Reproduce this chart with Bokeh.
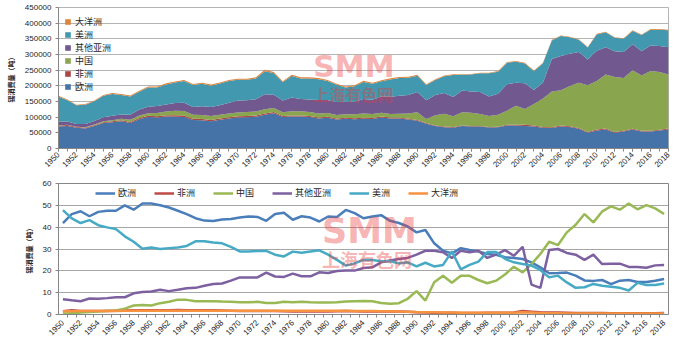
import math
from bokeh.plotting import figure
from bokeh.layouts import column
from bokeh.models import (ColumnDataSource, Range1d, FixedTicker, SingleIntervalTicker,
                          BasicTickFormatter, Legend, LegendItem, Label)
from bokeh.embed import file_html
from bokeh.resources import INLINE

years = list(range(1950, 2019))

# ---- consumption (tonnes), stacked area (top panel) ----
europe_t = [70400, 71800, 66200, 63900, 71900, 81200, 84100, 87000, 81100, 93500,
            100600, 99000, 101900, 101700, 100700, 90800, 90300, 87300, 91800, 95700,
            99000, 100100, 101500, 107700, 112200, 100200, 102000, 102200, 100800, 95900,
            98300, 92500, 94800, 93700, 95300, 94300, 99200, 96100, 95500, 92300,
            88400, 79300, 72000, 68000, 66400, 72000, 70200, 69900, 67000, 67700,
            73600, 73600, 71500, 70500, 66200, 65100, 70500, 68300, 63000, 50400,
            57800, 60900, 50400, 54600, 60900, 54600, 54600, 57800, 60900]
africa_t = [2500, 3100, 2200, 2300, 2400, 2700, 3000, 3100, 3400, 3700,
            4000, 3800, 4200, 4500, 4400, 4100, 4200, 3900, 3800, 3700,
            3600, 3600, 3600, 4000, 3900, 3200, 3300, 3200, 3200, 3200,
            3100, 3100, 3200, 3000, 3000, 2900, 3100, 3100, 3200, 3000,
            2400, 1800, 1800, 1900, 1900, 1700, 1700, 1700, 1900, 2000,
            2200, 2500, 4400, 3200, 2700, 3100, 3200, 2900, 2400, 2300,
            2600, 2600, 2100, 2100, 2300, 2200, 2300, 2300, 2700]
china_t = [500, 900, 1300, 1700, 2100, 2900, 3200, 4700, 6900, 8100,
           8100, 10300, 12100, 14600, 14700, 12600, 12800, 12400, 12400, 12700,
           12500, 12500, 13200, 13300, 12900, 12500, 13200, 13200, 12700, 12400,
           12000, 11600, 11700, 12300, 13400, 12800, 11600, 11000, 11900, 16500,
           25100, 13100, 32700, 41200, 34400, 41900, 42100, 38200, 34600, 38300,
           45000, 60500, 50100, 68200, 90900, 113700, 112300, 128400, 144600, 149100,
           155000, 173000, 175500, 168200, 186800, 176500, 190100, 183700, 172900]
other_asia_t = [11800, 10100, 8500, 10400, 11000, 12800, 14000, 13700, 16400, 19000,
                20800, 22400, 22300, 24200, 26300, 25100, 27700, 28600, 30000, 33900,
                37900, 37900, 38600, 48200, 42500, 37000, 43900, 39700, 39700, 43400,
                41600, 41200, 39800, 40600, 46000, 45400, 52100, 55300, 57900, 59300,
                64400, 59900, 64500, 66400, 61400, 69200, 67800, 70700, 62700, 66700,
                84200, 73400, 82000, 45100, 50200, 104100, 109000, 102400, 98000, 82200,
                96600, 86500, 82000, 83100, 83000, 76700, 82000, 83200, 86500]
americas_t = [80300, 67800, 59600, 61400, 63200, 68700, 69900, 62500, 58300, 56600,
              61100, 59100, 64000, 65400, 69200, 69900, 71400, 68300, 69400, 69300,
              66200, 65100, 66200, 73500, 68400, 58400, 68600, 64800, 66700, 66300,
              60300, 55100, 45100, 49200, 54800, 51200, 48700, 55100, 56300, 54900,
              52100, 48800, 47800, 53400, 70800, 50300, 54300, 59600, 73900, 70300,
              68800, 66800, 63300, 59800, 62100, 58900, 63800, 53200, 39300, 38400,
              52200, 48100, 43200, 42200, 42100, 52200, 50100, 52100, 54100]
oceania_t = [2500, 2300, 2200, 2300, 2400, 2700, 2800, 3000, 2900, 3100,
             3400, 3400, 3500, 3600, 3700, 3500, 3600, 3500, 3600, 3700,
             3800, 3800, 3900, 4300, 4100, 3700, 4000, 3900, 3900, 3800,
             3700, 3500, 3400, 3200, 3500, 3400, 3300, 3400, 3200, 3000,
             2600, 2100, 2200, 2100, 2100, 1900, 1900, 1900, 1900, 2000,
             2200, 2200, 2700, 2200, 1900, 2100, 2200, 1800, 1700, 1600,
             1800, 1900, 1800, 1800, 1900, 1800, 1900, 1900, 1900]

# ---- share (%), line chart (bottom panel) ----
europe_p = [41.9, 46.0, 47.3, 45.0, 47.0, 47.5, 47.5, 50.0, 48.0, 50.8,
            50.8, 50.0, 49.0, 47.5, 46.0, 44.1, 43.0, 42.8, 43.5, 43.7,
            44.4, 44.9, 44.7, 42.9, 46.0, 46.6, 43.4, 45.0, 44.4, 42.6,
            44.9, 44.7, 47.9, 46.4, 44.1, 44.9, 45.5, 42.9, 41.9, 40.3,
            37.6, 38.7, 32.6, 29.2, 28.0, 30.4, 29.5, 28.9, 27.7, 27.4,
            26.2, 25.9, 25.4, 23.9, 21.6, 18.9, 19.0, 19.2, 17.8, 15.6,
            15.4, 15.8, 13.9, 15.5, 15.8, 14.9, 14.9, 15.5, 16.3]
africa_p = [1.5, 2.0, 1.6, 1.6, 1.6, 1.6, 1.7, 1.8, 2.0, 2.0,
            2.0, 1.9, 2.0, 2.1, 2.0, 2.0, 2.0, 1.9, 1.8, 1.7,
            1.6, 1.6, 1.6, 1.6, 1.6, 1.5, 1.4, 1.4, 1.4, 1.4,
            1.4, 1.5, 1.6, 1.5, 1.4, 1.4, 1.4, 1.4, 1.4, 1.3,
            1.0, 0.9, 0.8, 0.8, 0.8, 0.7, 0.7, 0.7, 0.8, 0.8,
            0.8, 0.9, 1.6, 1.3, 1.0, 0.9, 0.9, 0.8, 0.7, 0.7,
            0.7, 0.7, 0.6, 0.6, 0.6, 0.6, 0.6, 0.6, 0.7]
china_p = [0.3, 0.6, 0.9, 1.2, 1.4, 1.7, 1.8, 2.7, 4.1, 4.4,
           4.1, 5.2, 5.8, 6.8, 6.7, 6.1, 6.1, 6.1, 5.9, 5.8,
           5.6, 5.6, 5.8, 5.3, 5.3, 5.8, 5.6, 5.8, 5.6, 5.5,
           5.5, 5.6, 5.9, 6.1, 6.2, 6.1, 5.3, 4.9, 5.2, 7.2,
           10.7, 6.4, 14.8, 17.7, 14.5, 17.7, 17.7, 15.8, 14.3, 15.5,
           18.3, 21.9, 19.3, 23.1, 27.7, 33.3, 31.8, 37.6, 41.1, 46.0,
           42.2, 47.2, 49.5, 48.0, 50.8, 48.2, 50.1, 48.6, 46.0]
other_asia_p = [7.0, 6.5, 6.1, 7.3, 7.2, 7.5, 7.9, 7.9, 9.7, 10.3,
                10.5, 11.3, 10.7, 11.3, 12.0, 12.2, 13.2, 14.0, 14.2, 15.5,
                17.0, 17.0, 17.0, 19.2, 17.4, 17.2, 18.7, 17.5, 17.5, 19.3,
                19.0, 19.9, 20.1, 20.1, 21.3, 21.6, 23.9, 24.7, 25.4, 25.9,
                27.4, 29.2, 29.2, 28.5, 25.9, 29.2, 28.5, 29.2, 25.9, 27.4,
                29.5, 26.9, 31.0, 13.7, 12.2, 29.5, 30.0, 28.2, 27.4, 25.0,
                27.4, 23.1, 23.3, 23.3, 21.8, 21.8, 21.4, 22.5, 22.7]
americas_p = [47.8, 44.0, 41.9, 43.2, 40.9, 39.9, 39.1, 35.8, 33.3, 30.1,
              30.7, 30.0, 30.4, 30.7, 31.4, 33.5, 33.6, 33.0, 32.6, 31.0,
              28.9, 28.8, 29.1, 29.1, 27.4, 26.6, 28.8, 28.3, 28.9, 29.4,
              27.4, 25.0, 22.4, 23.4, 25.0, 25.0, 24.4, 24.4, 23.4, 23.9,
              22.0, 23.7, 22.0, 22.7, 28.9, 20.7, 22.7, 24.2, 28.6, 28.6,
              25.5, 23.9, 23.1, 22.4, 20.4, 17.0, 17.8, 14.7, 12.2, 12.5,
              14.0, 13.2, 12.7, 12.2, 11.0, 14.5, 13.5, 13.5, 14.2]
oceania_p = [1.5, 1.5, 1.6, 1.6, 1.6, 1.6, 1.6, 1.7, 1.7, 1.7,
             1.7, 1.7, 1.7, 1.7, 1.7, 1.7, 1.7, 1.7, 1.7, 1.7,
             1.7, 1.7, 1.7, 1.7, 1.7, 1.7, 1.7, 1.7, 1.7, 1.7,
             1.7, 1.7, 1.7, 1.6, 1.6, 1.6, 1.5, 1.5, 1.4, 1.3,
             1.1, 1.0, 1.0, 0.9, 0.9, 0.8, 0.8, 0.8, 0.8, 0.8,
             0.8, 0.8, 1.0, 0.9, 0.7, 0.6, 0.6, 0.5, 0.5, 0.5,
             0.5, 0.5, 0.5, 0.5, 0.5, 0.5, 0.5, 0.5, 0.5]

region_names = ["欧洲", "非洲", "中国", "其他亚洲", "美洲", "大洋洲"]
area_colors = ["#4572A7", "#AA4643", "#89A54E", "#71588F", "#4198AF", "#DB843D"]
line_colors = ["#4A7EBB", "#BE4B48", "#98B954", "#7D60A0", "#46AAC5", "#F69240"]

y_title = "锡消费量（吨）"
even_years = [y for y in years if y % 2 == 0]

CJK = "Noto Sans CJK SC"
NUM = "Liberation Sans"
WMF = "DejaVu Sans"
TXT = "#262626"
WM = "#EE3B3B"

# ================= top panel =================
src_t = ColumnDataSource(dict(year=years, s0=europe_t, s1=africa_t, s2=china_t,
                              s3=other_asia_t, s4=americas_t, s5=oceania_t))
p1 = figure(width=674, height=172, x_range=Range1d(1950, 2018), y_range=Range1d(0, 450000),
            output_backend="svg", toolbar_location=None,
            min_border_left=58, min_border_right=6, min_border_top=7, min_border_bottom=22)
rs = p1.varea_stack(stackers=["s0", "s1", "s2", "s3", "s4", "s5"], x="year",
                    color=area_colors, source=src_t)

p1.xgrid.grid_line_color = None
p1.ygrid.grid_line_color = "#B4B4B4"
p1.outline_line_color = "#B4B4B4"
p1.yaxis.ticker = SingleIntervalTicker(interval=50000)
p1.yaxis.formatter = BasicTickFormatter(use_scientific=False)
p1.xaxis.ticker = FixedTicker(ticks=even_years, minor_ticks=years)
for ax in (p1.xaxis[0], p1.yaxis[0]):
    ax.axis_line_color = "#868686"
    ax.major_tick_line_color = "#868686"
    ax.minor_tick_line_color = "#868686"
    ax.major_tick_in = 0
    ax.major_tick_out = 3
    ax.minor_tick_in = 0
    ax.minor_tick_out = 3
    ax.major_label_text_font = NUM
    ax.major_label_text_font_size = "8px"
    ax.major_label_text_color = TXT
p1.yaxis.minor_tick_out = 0
p1.xaxis.major_label_orientation = math.pi / 4
p1.xaxis.major_label_standoff = 2
p1.yaxis.major_label_standoff = 4
p1.yaxis.axis_label = y_title
p1.yaxis.axis_label_text_font = CJK
p1.yaxis.axis_label_text_font_size = "7px"
p1.yaxis.axis_label_text_font_style = "bold"
p1.yaxis.axis_label_text_color = TXT
p1.yaxis.axis_label_standoff = 6

items = [LegendItem(label=region_names[i], renderers=[rs[i]]) for i in range(5, -1, -1)]
leg1 = Legend(items=items, location=(6, 55), orientation="vertical",
              glyph_width=7, glyph_height=7, label_height=9, label_width=10,
              spacing=0, padding=0, margin=0, label_standoff=4,
              label_text_font=CJK, label_text_font_size="9px", label_text_color=TXT,
              label_text_line_height=1.0,
              background_fill_alpha=0, border_line_color=None)
p1.add_layout(leg1)

p1.add_layout(Label(x=1978.4, y=205000, text="SMM", text_font=WMF, text_font_style="bold",
                    text_font_size="30px", text_color=WM, text_alpha=0.4,
                    text_baseline="bottom"))
p1.add_layout(Label(x=1978.4, y=136000, text="上海有色网", text_font=CJK, text_font_style="bold",
                    text_font_size="16px", text_color=WM, text_alpha=0.4,
                    text_baseline="bottom"))

# ================= bottom panel =================
src_p = ColumnDataSource(dict(year=years, s0=europe_p, s1=africa_p, s2=china_p,
                              s3=other_asia_p, s4=americas_p, s5=oceania_p))
p2 = figure(width=674, height=170, x_range=Range1d(1949.5, 2018.5), y_range=Range1d(0, 60),
            output_backend="svg", toolbar_location=None,
            min_border_left=40, min_border_right=2, min_border_top=11, min_border_bottom=28)
lr = []
for i, key in enumerate(["s0", "s1", "s2", "s3", "s4", "s5"]):
    lr.append(p2.line(x="year", y=key, source=src_p, line_color=line_colors[i], line_width=2.5))

p2.xgrid.grid_line_color = None
p2.ygrid.grid_line_color = "#A6A6A6"
p2.outline_line_color = "#868686"
p2.yaxis.ticker = SingleIntervalTicker(interval=10)
p2.xaxis.ticker = FixedTicker(ticks=even_years, minor_ticks=[y + 0.5 for y in years[:-1]])
for ax in (p2.xaxis[0], p2.yaxis[0]):
    ax.axis_line_color = "#868686"
    ax.major_tick_line_color = "#868686"
    ax.minor_tick_line_color = "#868686"
    ax.major_tick_in = 0
    ax.major_tick_out = 3
    ax.minor_tick_in = 0
    ax.minor_tick_out = 3
    ax.major_label_text_font = NUM
    ax.major_label_text_font_size = "8px"
    ax.major_label_text_color = TXT
p2.xaxis.major_tick_out = 0
p2.yaxis.minor_tick_out = 0
p2.xaxis.major_label_orientation = math.pi / 4
p2.xaxis.major_label_standoff = 4
p2.yaxis.major_label_standoff = 4
p2.yaxis.axis_label = y_title
p2.yaxis.axis_label_text_font = CJK
p2.yaxis.axis_label_text_font_size = "7px"
p2.yaxis.axis_label_text_font_style = "bold"
p2.yaxis.axis_label_text_color = TXT
p2.yaxis.axis_label_standoff = 6

items2 = [LegendItem(label=region_names[i], renderers=[lr[i]]) for i in range(6)]
leg2 = Legend(items=items2, location=(37, 115), orientation="horizontal",
              glyph_width=20, glyph_height=10, label_height=10, label_width=10,
              spacing=18, padding=0, margin=0, label_standoff=3,
              label_text_font=CJK, label_text_font_size="9px", label_text_color=TXT,
              background_fill_alpha=0, border_line_color=None)
p2.add_layout(leg2)

p2.add_layout(Label(x=1979.3, y=29.3, text="SMM", text_font=WMF, text_font_style="bold",
                    text_font_size="35px", text_color=WM, text_alpha=0.4,
                    text_baseline="bottom"))
p2.add_layout(Label(x=1979.3, y=19.3, text="上海有色网", text_font=CJK, text_font_style="bold",
                    text_font_size="18px", text_color=WM, text_alpha=0.4,
                    text_baseline="bottom"))

layout = column(p1, p2, spacing=0)
open("out.html", "w").write(file_html(layout, INLINE))
